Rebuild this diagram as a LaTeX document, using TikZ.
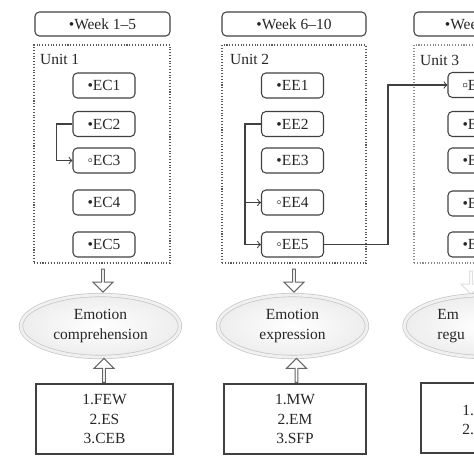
\documentclass[tikz,border=0pt]{standalone}
\usepackage{fontspec}
\setmainfont{Liberation Serif}
\usetikzlibrary{shapes.geometric,shapes.arrows,positioning}

\tikzset{
  weekbox/.style={draw=black!75, line width=0.6pt, rounded corners=2.5pt,
    minimum width=#1, minimum height=0.48cm, inner sep=0pt},
  unitbox/.style={draw=black!65, line width=0.6pt, densely dotted,
    minimum width=#1, minimum height=4.36cm, inner sep=0pt},
  unitlabel/.style={anchor=west, inner sep=1pt},
  itembox/.style={draw=black!75, line width=0.6pt, rounded corners=2.5pt,
    minimum width=1.24cm, minimum height=0.5cm, inner sep=0pt},
  emotion/.style={ellipse, draw=gray!45, double=gray!12, double distance=1.6pt,
    shading=radial, inner color=white, outer color=gray!14,
    minimum width=#1, minimum height=1.24cm, inner sep=0pt, align=center},
  evalbox/.style={draw=black!75, line width=0.6pt, minimum width=#1,
    minimum height=1.4cm, inner sep=0pt, align=center},
  hollowdown/.style={single arrow, draw=black!60, fill=white, line width=0.6pt,
    shape border rotate=270, minimum height=0.46cm, minimum width=0.4cm,
    single arrow head extend=0.07cm, inner sep=0pt},
  hollowup/.style={hollowdown, shape border rotate=90, minimum height=0.48cm},
  link/.style={draw=black!75, line width=0.6pt, ->, >=to}
}

\begin{document}
\begin{tikzpicture}[x=0.02cm, y=-0.02cm, font=\fontsize{8.8}{11.2}\selectfont, text=black!85]
  \useasboundingbox (0,0) rectangle (474,474);
  \clip (0,0) rectangle (474,474);

  % Week row
  \node[weekbox=2.7cm] (wk1) at (102.5,24) {•Week 1–5};
  \node[weekbox=2.88cm] (wk2) at (294,24) {•Week 6–10};
  \node[weekbox=2.88cm] (wk3) at (486,24) {•Week\phantom{ 11–15}};

  % Unit boxes
  \node[unitbox=2.72cm] (unit1) at (102,154) {};
  \node[unitbox=2.88cm] (unit2) at (294,154) {};
  \node[unitbox=2.88cm, draw=black!45] (unit3) at (486,154) {};
  \node[unitlabel] (lab1) at (38,59) {Unit 1};
  \node[unitlabel] (lab2) at (228,59) {Unit 2};
  \node[unitlabel] (lab3) at (418,60) {Unit 3};

  % Unit 1 items
  \node[itembox] (ec1) at (104,85.5) {•EC1};
  \node[itembox] (ec2) at (104,124) {•EC2};
  \node[itembox] (ec3) at (104,160.5) {◦EC3};
  \node[itembox] (ec4) at (104,202.5) {•EC4};
  \node[itembox] (ec5) at (104,244.5) {•EC5};
  \draw[link] (ec2.west) -- ++(-16,0) |- (ec3.west);

  % Unit 2 items
  \node[itembox] (ee1) at (292.5,85.5) {•EE1};
  \node[itembox] (ee2) at (292.5,124) {•EE2};
  \node[itembox] (ee3) at (292.5,160.5) {•EE3};
  \node[itembox] (ee4) at (292.5,202.5) {◦EE4};
  \node[itembox] (ee5) at (292.5,244.5) {◦EE5};
  \draw[link] (ee2.west) -- ++(-16,0) |- (ee4.west);
  \draw[link] (ee2.west) -- ++(-16,0) |- (ee5.west);

  % Unit 3 items
  \node[itembox] (er1) at (479,85) {▫E\phantom{R1}};
  \node[itembox] (er2) at (479,124) {•E\phantom{R2}};
  \node[itembox] (er3) at (479,160.5) {•E\phantom{R3}};
  \node[itembox] (er4) at (479,203.5) {•E\phantom{R4}};
  \node[itembox] (er5) at (479,244.5) {•E\phantom{R5}};
  \draw[link] (ee5.east) -- ++(64,0) |- (er1.west);

  % Hollow arrows down
  \node[hollowdown] (down1) at (103,280) {};
  \node[hollowdown] (down2) at (294,280) {};
  \node[hollowdown, draw=black!12] (down3) at (471,282) {};

  % Emotion ellipses
  \node[emotion=3.18cm] (emo1) at (100.5,326) {Emotion\\comprehension};
  \node[emotion=2.98cm] (emo2) at (292.5,326) {Emotion\\expression};
  \node[emotion=3.18cm] (emo3) at (484,326) {};
  \node[anchor=west, align=left, inner sep=0pt] (emo3txt) at (437,326) {Em\\regu};

  % Hollow arrows up
  \node[hollowup] (up1) at (104,371) {};
  \node[hollowup] (up2) at (296.5,371) {};

  % Bottom boxes
  \node[evalbox=2.74cm] (ev1) at (104.5,419) {1.FEW\\2.ES\\3.CEB};
  \node[evalbox=2.84cm] (ev2) at (295,419) {1.MW\\2.EM\\3.SFP};
  \node[evalbox=2.8cm] (ev3) at (491,418) {};
  \node[anchor=west, align=left, inner sep=0pt] (ev3txt) at (462,420) {1.\\2.};
\end{tikzpicture}
\end{document}
